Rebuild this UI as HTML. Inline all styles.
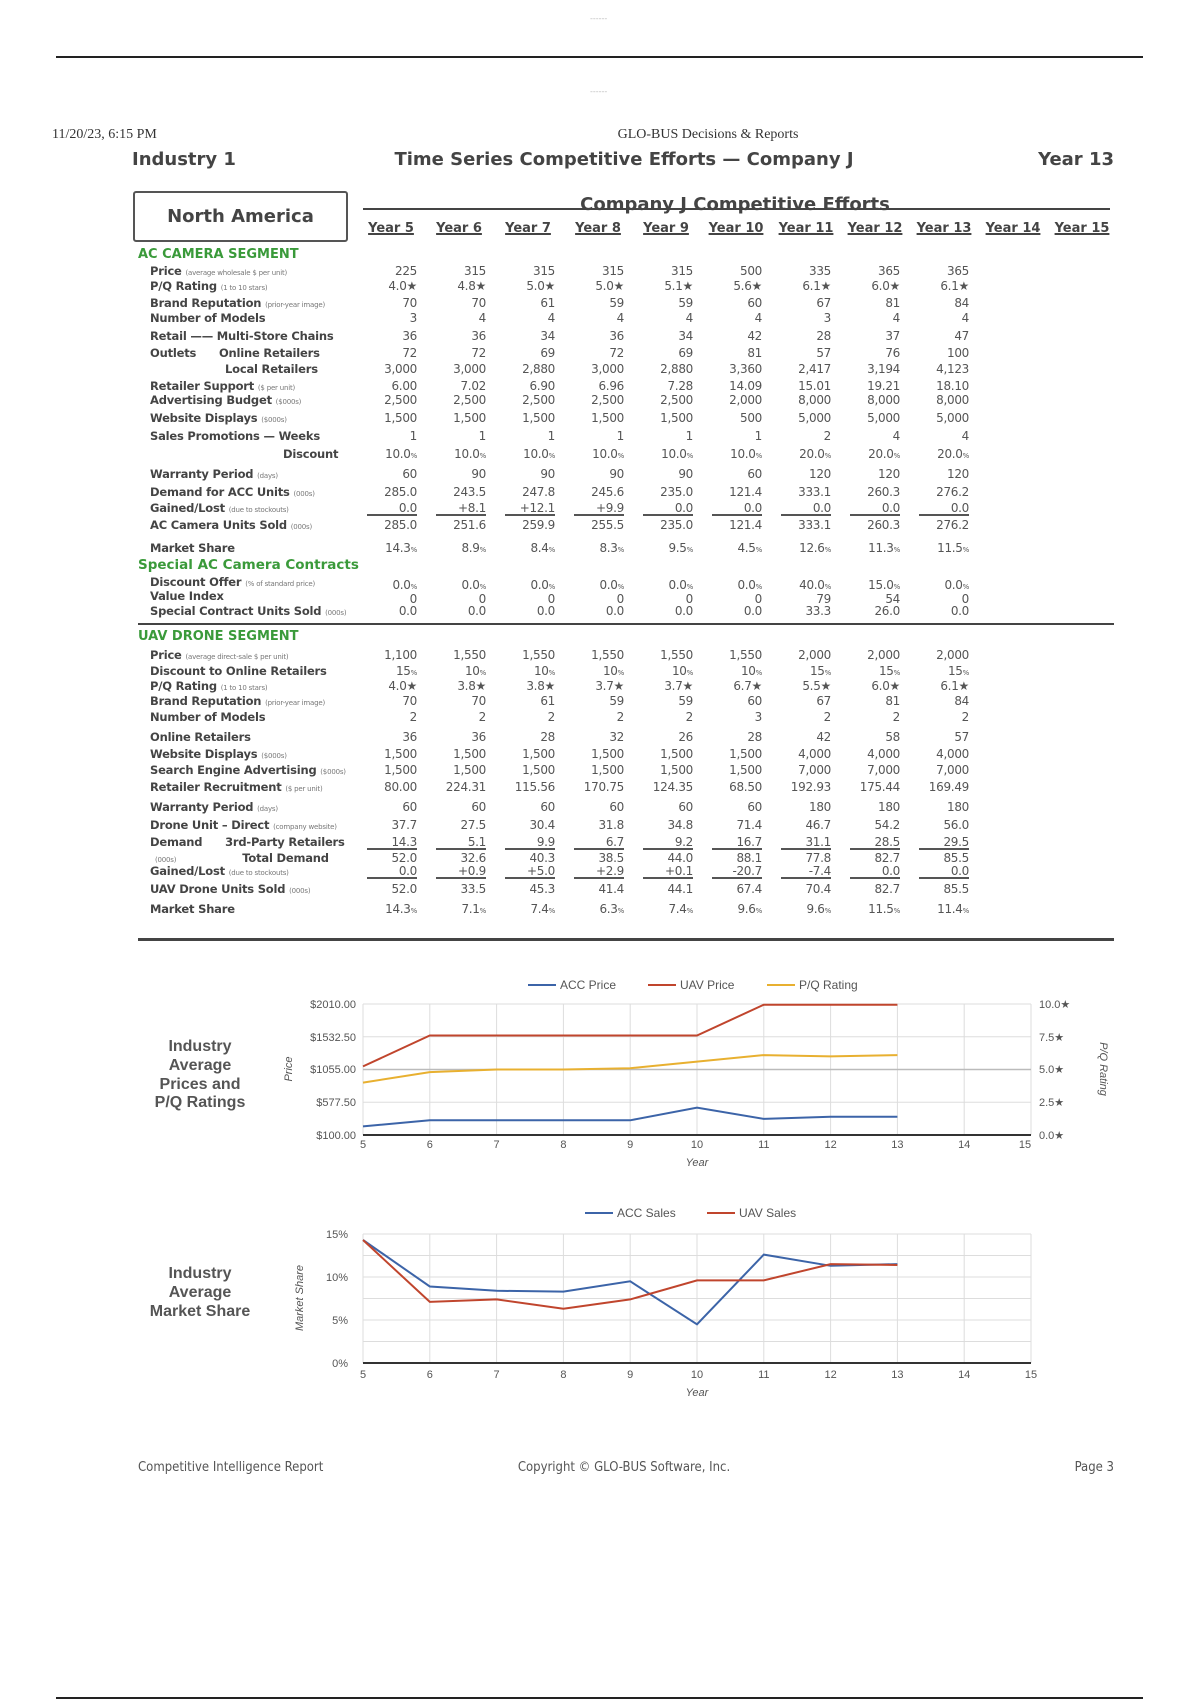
<!DOCTYPE html>
<html><head><meta charset="utf-8"><style>
body{margin:0;width:1200px;height:1700px;background:#fff;position:relative;font-family:"DejaVu Sans","Liberation Sans",sans-serif;color:#444;overflow:hidden}
.a{position:absolute;white-space:nowrap}
.r{position:absolute;left:0;width:1200px;height:14px;line-height:14px;font-size:12px}
.l{position:absolute;left:150px;font-weight:bold;color:#444;font-size:11.5px;letter-spacing:-0.2px}
.l small,.i small{font-weight:normal;font-size:7px;color:#777}
.v{position:absolute;left:348px;display:flex;color:#555}
.v i{width:69px;text-align:right;font-style:normal;letter-spacing:-0.3px}
.v i small{font-size:7px}
.u b{display:inline-block;min-width:50px;text-align:right;border-bottom:2px solid #555;font-weight:normal;line-height:12px}
.t b{display:inline-block;min-width:50px;text-align:right;border-top:2px solid #555;font-weight:normal;line-height:12px}
.g{position:absolute;left:138px;color:#3a9a3a;font-weight:bold;font-size:13px}
.yh{position:absolute;top:221px;font-size:13px;font-weight:bold;color:#444;text-decoration:underline;text-decoration-thickness:2px;transform:translateX(-50%)}
</style></head><body>
<div class="a" style="left:590px;top:14px;font-size:8px;color:#bbb">------</div>
<div style="position:absolute;left:56px;top:56px;width:1087px;height:2px;background:#222"></div>
<div class="a" style="left:590px;top:87px;font-size:8px;color:#bbb">------</div>
<div class="a" style="left:52px;top:127px;font-family:'Liberation Serif',serif;font-size:14px;color:#333">11/20/23, 6:15 PM</div>
<div class="a" style="left:708px;top:127px;transform:translateX(-50%);font-family:'Liberation Serif',serif;font-size:14px;color:#333">GLO-BUS Decisions &amp; Reports</div>
<div class="a" style="left:132px;top:149px;font-size:18px;font-weight:bold;color:#444">Industry 1</div>
<div class="a" style="left:624px;top:149px;transform:translateX(-50%);font-size:18px;font-weight:bold;color:#444">Time Series Competitive Efforts — Company J</div>
<div class="a" style="right:86px;top:149px;font-size:18px;font-weight:bold;color:#444">Year 13</div>
<div class="a" style="left:133px;top:191px;width:211px;height:47px;border:2px solid #555;border-radius:3px;text-align:center;line-height:47px;font-size:18px;font-weight:bold;color:#444">North America</div>
<div style="position:absolute;left:363px;top:208px;width:747px;height:2px;background:#444"></div>
<div class="a" style="left:735px;top:194px;transform:translateX(-50%);font-size:18px;font-weight:bold;color:#444;background:transparent">Company J Competitive Efforts</div>
<div class="yh" style="left:391px">Year 5</div><div class="yh" style="left:459px">Year 6</div><div class="yh" style="left:528px">Year 7</div><div class="yh" style="left:598px">Year 8</div><div class="yh" style="left:666px">Year 9</div><div class="yh" style="left:736px">Year 10</div><div class="yh" style="left:806px">Year 11</div><div class="yh" style="left:875px">Year 12</div><div class="yh" style="left:944px">Year 13</div><div class="yh" style="left:1013px">Year 14</div><div class="yh" style="left:1082px">Year 15</div>

<div class="g" style="top:247px">AC CAMERA SEGMENT</div>
<div class="r" style="top:264px"><span class="l">Price <small>(average wholesale $ per unit)</small></span><div class="v"><i>225</i><i>315</i><i>315</i><i>315</i><i>315</i><i>500</i><i>335</i><i>365</i><i>365</i></div></div>
<div class="r" style="top:279px"><span class="l">P/Q Rating <small>(1 to 10 stars)</small></span><div class="v"><i>4.0★</i><i>4.8★</i><i>5.0★</i><i>5.0★</i><i>5.1★</i><i>5.6★</i><i>6.1★</i><i>6.0★</i><i>6.1★</i></div></div>
<div class="r" style="top:296px"><span class="l">Brand Reputation <small>(prior-year image)</small></span><div class="v"><i>70</i><i>70</i><i>61</i><i>59</i><i>59</i><i>60</i><i>67</i><i>81</i><i>84</i></div></div>
<div class="r" style="top:311px"><span class="l">Number of Models</span><div class="v"><i>3</i><i>4</i><i>4</i><i>4</i><i>4</i><i>4</i><i>3</i><i>4</i><i>4</i></div></div>
<div class="r" style="top:329px"><span class="l">Retail —— Multi-Store Chains</span><div class="v"><i>36</i><i>36</i><i>34</i><i>36</i><i>34</i><i>42</i><i>28</i><i>37</i><i>47</i></div></div>
<div class="r" style="top:346px"><span class="l">Outlets &nbsp;&nbsp;&nbsp;&nbsp; Online Retailers</span><div class="v"><i>72</i><i>72</i><i>69</i><i>72</i><i>69</i><i>81</i><i>57</i><i>76</i><i>100</i></div></div>
<div class="r" style="top:362px"><span class="l" style="left:225px">Local Retailers</span><div class="v"><i>3,000</i><i>3,000</i><i>2,880</i><i>3,000</i><i>2,880</i><i>3,360</i><i>2,417</i><i>3,194</i><i>4,123</i></div></div>
<div class="r" style="top:379px"><span class="l">Retailer Support <small>($ per unit)</small></span><div class="v"><i>6.00</i><i>7.02</i><i>6.90</i><i>6.96</i><i>7.28</i><i>14.09</i><i>15.01</i><i>19.21</i><i>18.10</i></div></div>
<div class="r" style="top:393px"><span class="l">Advertising Budget <small>($000s)</small></span><div class="v"><i>2,500</i><i>2,500</i><i>2,500</i><i>2,500</i><i>2,500</i><i>2,000</i><i>8,000</i><i>8,000</i><i>8,000</i></div></div>
<div class="r" style="top:411px"><span class="l">Website Displays <small>($000s)</small></span><div class="v"><i>1,500</i><i>1,500</i><i>1,500</i><i>1,500</i><i>1,500</i><i>500</i><i>5,000</i><i>5,000</i><i>5,000</i></div></div>
<div class="r" style="top:429px"><span class="l">Sales Promotions — Weeks</span><div class="v"><i>1</i><i>1</i><i>1</i><i>1</i><i>1</i><i>1</i><i>2</i><i>4</i><i>4</i></div></div>
<div class="r" style="top:447px"><span class="l" style="left:283px">Discount</span><div class="v"><i>10.0<small>%</small></i><i>10.0<small>%</small></i><i>10.0<small>%</small></i><i>10.0<small>%</small></i><i>10.0<small>%</small></i><i>10.0<small>%</small></i><i>20.0<small>%</small></i><i>20.0<small>%</small></i><i>20.0<small>%</small></i></div></div>
<div class="r" style="top:467px"><span class="l">Warranty Period <small>(days)</small></span><div class="v"><i>60</i><i>90</i><i>90</i><i>90</i><i>90</i><i>60</i><i>120</i><i>120</i><i>120</i></div></div>
<div class="r" style="top:485px"><span class="l">Demand for ACC Units <small>(000s)</small></span><div class="v"><i>285.0</i><i>243.5</i><i>247.8</i><i>245.6</i><i>235.0</i><i>121.4</i><i>333.1</i><i>260.3</i><i>276.2</i></div></div>
<div class="r" style="top:501px"><span class="l">Gained/Lost <small>(due to stockouts)</small></span><div class="v"><i class="u"><b>0.0</b></i><i class="u"><b>+8.1</b></i><i class="u"><b>+12.1</b></i><i class="u"><b>+9.9</b></i><i class="u"><b>0.0</b></i><i class="u"><b>0.0</b></i><i class="u"><b>0.0</b></i><i class="u"><b>0.0</b></i><i class="u"><b>0.0</b></i></div></div>
<div class="r" style="top:518px"><span class="l">AC Camera Units Sold <small>(000s)</small></span><div class="v"><i>285.0</i><i>251.6</i><i>259.9</i><i>255.5</i><i>235.0</i><i>121.4</i><i>333.1</i><i>260.3</i><i>276.2</i></div></div>
<div class="r" style="top:541px"><span class="l">Market Share</span><div class="v"><i>14.3<small>%</small></i><i>8.9<small>%</small></i><i>8.4<small>%</small></i><i>8.3<small>%</small></i><i>9.5<small>%</small></i><i>4.5<small>%</small></i><i>12.6<small>%</small></i><i>11.3<small>%</small></i><i>11.5<small>%</small></i></div></div>
<div class="g" style="top:557px;font-size:13.5px;font-weight:bold">Special AC Camera Contracts</div>
<div class="r" style="top:575px"><span class="l">Discount Offer <small>(% of standard price)</small></span><div class="v" style="top:3px"><i>0.0<small>%</small></i><i>0.0<small>%</small></i><i>0.0<small>%</small></i><i>0.0<small>%</small></i><i>0.0<small>%</small></i><i>0.0<small>%</small></i><i>40.0<small>%</small></i><i>15.0<small>%</small></i><i>0.0<small>%</small></i></div></div>
<div class="r" style="top:589px"><span class="l">Value Index</span><div class="v" style="top:3px"><i>0</i><i>0</i><i>0</i><i>0</i><i>0</i><i>0</i><i>79</i><i>54</i><i>0</i></div></div>
<div class="r" style="top:604px"><span class="l">Special Contract Units Sold <small>(000s)</small></span><div class="v"><i>0.0</i><i>0.0</i><i>0.0</i><i>0.0</i><i>0.0</i><i>0.0</i><i>33.3</i><i>26.0</i><i>0.0</i></div></div>
<div style="position:absolute;left:138px;top:623px;width:976px;height:2px;background:#444"></div>

<div class="g" style="top:629px">UAV DRONE SEGMENT</div>
<div class="r" style="top:648px"><span class="l">Price <small>(average direct-sale $ per unit)</small></span><div class="v"><i>1,100</i><i>1,550</i><i>1,550</i><i>1,550</i><i>1,550</i><i>1,550</i><i>2,000</i><i>2,000</i><i>2,000</i></div></div>
<div class="r" style="top:664px"><span class="l">Discount to Online Retailers</span><div class="v"><i>15<small>%</small></i><i>10<small>%</small></i><i>10<small>%</small></i><i>10<small>%</small></i><i>10<small>%</small></i><i>10<small>%</small></i><i>15<small>%</small></i><i>15<small>%</small></i><i>15<small>%</small></i></div></div>
<div class="r" style="top:679px"><span class="l">P/Q Rating <small>(1 to 10 stars)</small></span><div class="v"><i>4.0★</i><i>3.8★</i><i>3.8★</i><i>3.7★</i><i>3.7★</i><i>6.7★</i><i>5.5★</i><i>6.0★</i><i>6.1★</i></div></div>
<div class="r" style="top:694px"><span class="l">Brand Reputation <small>(prior-year image)</small></span><div class="v"><i>70</i><i>70</i><i>61</i><i>59</i><i>59</i><i>60</i><i>67</i><i>81</i><i>84</i></div></div>
<div class="r" style="top:710px"><span class="l">Number of Models</span><div class="v"><i>2</i><i>2</i><i>2</i><i>2</i><i>2</i><i>3</i><i>2</i><i>2</i><i>2</i></div></div>
<div class="r" style="top:730px"><span class="l">Online Retailers</span><div class="v"><i>36</i><i>36</i><i>28</i><i>32</i><i>26</i><i>28</i><i>42</i><i>58</i><i>57</i></div></div>
<div class="r" style="top:747px"><span class="l">Website Displays <small>($000s)</small></span><div class="v"><i>1,500</i><i>1,500</i><i>1,500</i><i>1,500</i><i>1,500</i><i>1,500</i><i>4,000</i><i>4,000</i><i>4,000</i></div></div>
<div class="r" style="top:763px"><span class="l">Search Engine Advertising <small>($000s)</small></span><div class="v"><i>1,500</i><i>1,500</i><i>1,500</i><i>1,500</i><i>1,500</i><i>1,500</i><i>7,000</i><i>7,000</i><i>7,000</i></div></div>
<div class="r" style="top:780px"><span class="l">Retailer Recruitment <small>($ per unit)</small></span><div class="v"><i>80.00</i><i>224.31</i><i>115.56</i><i>170.75</i><i>124.35</i><i>68.50</i><i>192.93</i><i>175.44</i><i>169.49</i></div></div>
<div class="r" style="top:800px"><span class="l">Warranty Period <small>(days)</small></span><div class="v"><i>60</i><i>60</i><i>60</i><i>60</i><i>60</i><i>60</i><i>180</i><i>180</i><i>180</i></div></div>
<div class="r" style="top:818px"><span class="l">Drone Unit – Direct <small>(company website)</small></span><div class="v"><i>37.7</i><i>27.5</i><i>30.4</i><i>31.8</i><i>34.8</i><i>71.4</i><i>46.7</i><i>54.2</i><i>56.0</i></div></div>
<div class="r" style="top:835px"><span class="l">Demand &nbsp;&nbsp;&nbsp;&nbsp; 3rd-Party Retailers</span><div class="v"><i class="u"><b>14.3</b></i><i class="u"><b>5.1</b></i><i class="u"><b>9.9</b></i><i class="u"><b>6.7</b></i><i class="u"><b>9.2</b></i><i class="u"><b>16.7</b></i><i class="u"><b>31.1</b></i><i class="u"><b>28.5</b></i><i class="u"><b>29.5</b></i></div></div>
<div class="r" style="top:851px"><span class="l"><small style="margin-left:5px">(000s)</small><span style="margin-left:66px">Total Demand</span></span><div class="v"><i>52.0</i><i>32.6</i><i>40.3</i><i>38.5</i><i>44.0</i><i>88.1</i><i>77.8</i><i>82.7</i><i>85.5</i></div></div>
<div class="r" style="top:864px"><span class="l">Gained/Lost <small>(due to stockouts)</small></span><div class="v"><i class="u"><b>0.0</b></i><i class="u"><b>+0.9</b></i><i class="u"><b>+5.0</b></i><i class="u"><b>+2.9</b></i><i class="u"><b>+0.1</b></i><i class="u"><b>-20.7</b></i><i class="u"><b>-7.4</b></i><i class="u"><b>0.0</b></i><i class="u"><b>0.0</b></i></div></div>
<div class="r" style="top:882px"><span class="l">UAV Drone Units Sold <small>(000s)</small></span><div class="v"><i>52.0</i><i>33.5</i><i>45.3</i><i>41.4</i><i>44.1</i><i>67.4</i><i>70.4</i><i>82.7</i><i>85.5</i></div></div>
<div class="r" style="top:902px"><span class="l">Market Share</span><div class="v"><i>14.3<small>%</small></i><i>7.1<small>%</small></i><i>7.4<small>%</small></i><i>6.3<small>%</small></i><i>7.4<small>%</small></i><i>9.6<small>%</small></i><i>9.6<small>%</small></i><i>11.5<small>%</small></i><i>11.4<small>%</small></i></div></div>
<div style="position:absolute;left:138px;top:938px;width:976px;height:3px;background:#444"></div>

<svg style="position:absolute;left:0;top:0" width="1200" height="1700" font-family="Liberation Sans, sans-serif">
<g font-size="12" fill="#555">
<line x1="528" y1="985" x2="556" y2="985" stroke="#3c64a8" stroke-width="2"/><text x="560" y="989">ACC Price</text>
<line x1="648" y1="985" x2="676" y2="985" stroke="#c0452d" stroke-width="2"/><text x="680" y="989">UAV Price</text>
<line x1="767" y1="985" x2="795" y2="985" stroke="#e8b030" stroke-width="2"/><text x="799" y="989">P/Q Rating</text>
</g>
<g stroke="#ddd" stroke-width="1">
<line x1="363" y1="1004" x2="1031" y2="1004"/><line x1="363" y1="1036.75" x2="1031" y2="1036.75"/><line x1="363" y1="1102.25" x2="1031" y2="1102.25"/>
<line x1="429.8" y1="1004" x2="429.8" y2="1135"/><line x1="496.6" y1="1004" x2="496.6" y2="1135"/><line x1="563.4" y1="1004" x2="563.4" y2="1135"/><line x1="630.2" y1="1004" x2="630.2" y2="1135"/><line x1="697" y1="1004" x2="697" y2="1135"/><line x1="763.8" y1="1004" x2="763.8" y2="1135"/><line x1="830.6" y1="1004" x2="830.6" y2="1135"/><line x1="897.4" y1="1004" x2="897.4" y2="1135"/><line x1="964.2" y1="1004" x2="964.2" y2="1135"/><line x1="1031" y1="1004" x2="1031" y2="1135"/><line x1="363" y1="1004" x2="363" y2="1135"/>
</g>
<line x1="363" y1="1069.5" x2="1031" y2="1069.5" stroke="#bbb" stroke-width="1.5"/>
<line x1="363" y1="1135" x2="1031" y2="1135" stroke="#333" stroke-width="2"/>
<polyline fill="none" stroke="#3c64a8" stroke-width="2" points="363,1126.4 429.8,1120.3 496.6,1120.3 563.4,1120.3 630.2,1120.3 697,1107.6 763.8,1118.9 830.6,1116.8 897.4,1116.8"/>
<polyline fill="none" stroke="#c0452d" stroke-width="2" points="363,1066.4 429.8,1035.5 496.6,1035.5 563.4,1035.5 630.2,1035.5 697,1035.5 763.8,1004.7 830.6,1004.7 897.4,1004.7"/>
<polyline fill="none" stroke="#e8b030" stroke-width="2" points="363,1082.6 429.8,1072.1 496.6,1069.5 563.4,1069.5 630.2,1068.2 697,1061.6 763.8,1055.1 830.6,1056.4 897.4,1055.1"/>
<g font-size="11" fill="#555" text-anchor="end">
<text x="356" y="1008">$2010.00</text><text x="356" y="1041">$1532.50</text><text x="356" y="1073">$1055.00</text><text x="356" y="1106">$577.50</text><text x="356" y="1139">$100.00</text>
</g>
<g font-size="11" fill="#555">
<text x="1039" y="1008">10.0★</text><text x="1039" y="1041">7.5★</text><text x="1039" y="1073">5.0★</text><text x="1039" y="1106">2.5★</text><text x="1039" y="1139">0.0★</text>
</g>
<g font-size="11" fill="#555" text-anchor="middle">
<text x="363" y="1148">5</text><text x="429.8" y="1148">6</text><text x="496.6" y="1148">7</text><text x="563.4" y="1148">8</text><text x="630.2" y="1148">9</text><text x="697" y="1148">10</text><text x="763.8" y="1148">11</text><text x="830.6" y="1148">12</text><text x="897.4" y="1148">13</text><text x="964.2" y="1148">14</text><text x="1025" y="1148">15</text>
<text x="697" y="1166" font-style="italic">Year</text>
<text transform="translate(292,1069) rotate(-90)" font-style="italic">Price</text>
<text transform="translate(1100,1069) rotate(90)" font-style="italic">P/Q Rating</text>
</g>
<g font-size="16" fill="#555" text-anchor="middle" font-weight="bold">
<text x="200" y="1051">Industry</text><text x="200" y="1070">Average</text><text x="200" y="1089">Prices and</text><text x="200" y="1107">P/Q Ratings</text>
<text x="200" y="1278">Industry</text><text x="200" y="1297">Average</text><text x="200" y="1316">Market Share</text>
</g>

<g font-size="12" fill="#555">
<line x1="585" y1="1213" x2="613" y2="1213" stroke="#3c64a8" stroke-width="2"/><text x="617" y="1217">ACC Sales</text>
<line x1="707" y1="1213" x2="735" y2="1213" stroke="#c0452d" stroke-width="2"/><text x="739" y="1217">UAV Sales</text>
</g>
<g stroke="#ddd" stroke-width="1">
<line x1="363" y1="1234" x2="1031" y2="1234"/><line x1="363" y1="1255.5" x2="1031" y2="1255.5"/><line x1="363" y1="1277" x2="1031" y2="1277"/><line x1="363" y1="1298.5" x2="1031" y2="1298.5"/><line x1="363" y1="1320" x2="1031" y2="1320"/><line x1="363" y1="1341.5" x2="1031" y2="1341.5"/>
<line x1="363" y1="1234" x2="363" y2="1363"/><line x1="429.8" y1="1234" x2="429.8" y2="1363"/><line x1="496.6" y1="1234" x2="496.6" y2="1363"/><line x1="563.4" y1="1234" x2="563.4" y2="1363"/><line x1="630.2" y1="1234" x2="630.2" y2="1363"/><line x1="697" y1="1234" x2="697" y2="1363"/><line x1="763.8" y1="1234" x2="763.8" y2="1363"/><line x1="830.6" y1="1234" x2="830.6" y2="1363"/><line x1="897.4" y1="1234" x2="897.4" y2="1363"/><line x1="964.2" y1="1234" x2="964.2" y2="1363"/><line x1="1031" y1="1234" x2="1031" y2="1363"/>
</g>
<line x1="363" y1="1363" x2="1031" y2="1363" stroke="#333" stroke-width="2"/>
<polyline fill="none" stroke="#3c64a8" stroke-width="2" points="363,1240 429.8,1286.5 496.6,1290.8 563.4,1291.6 630.2,1281.3 697,1324.3 763.8,1254.6 830.6,1265.8 897.4,1264.1"/>
<polyline fill="none" stroke="#c0452d" stroke-width="2" points="363,1240 429.8,1301.9 496.6,1299.4 563.4,1308.8 630.2,1299.4 697,1280.4 763.8,1280.4 830.6,1264.1 897.4,1265"/>
<g font-size="11" fill="#555" text-anchor="end">
<text x="348" y="1238">15%</text><text x="348" y="1281">10%</text><text x="348" y="1324">5%</text><text x="348" y="1367">0%</text>
</g>
<g font-size="11" fill="#555" text-anchor="middle">
<text x="363" y="1378">5</text><text x="429.8" y="1378">6</text><text x="496.6" y="1378">7</text><text x="563.4" y="1378">8</text><text x="630.2" y="1378">9</text><text x="697" y="1378">10</text><text x="763.8" y="1378">11</text><text x="830.6" y="1378">12</text><text x="897.4" y="1378">13</text><text x="964.2" y="1378">14</text><text x="1031" y="1378">15</text>
<text x="697" y="1396" font-style="italic">Year</text>
<text transform="translate(303,1298) rotate(-90)" font-style="italic">Market Share</text>
</g>
<g font-size="13" fill="#555" font-family="DejaVu Sans Condensed, DejaVu Sans, sans-serif">
<text x="138" y="1471">Competitive Intelligence Report</text>
<text x="624" y="1471" text-anchor="middle">Copyright © GLO-BUS Software, Inc.</text>
<text x="1114" y="1471" text-anchor="end">Page 3</text>
</g>
<line x1="56" y1="1698" x2="1143" y2="1698" stroke="#222" stroke-width="2"/>
</svg>
</body></html>
